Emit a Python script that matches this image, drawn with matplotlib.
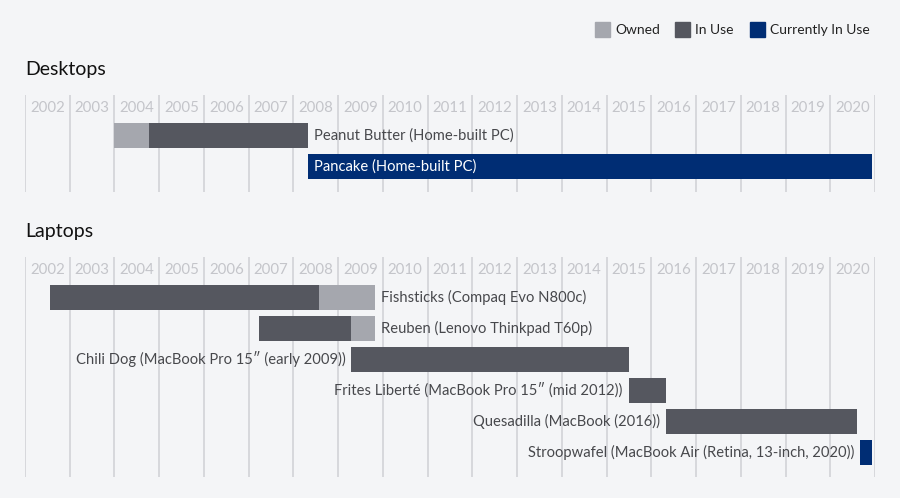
import matplotlib
matplotlib.use("Agg")
import matplotlib.pyplot as plt
from matplotlib.patches import Rectangle

# ── données ─────────────────────────────────────────────
years = list(range(2002, 2021))

desktop_labels   = ["Peanut Butter (Home-built PC)", "Pancake (Home-built PC)"]
desktop_acquired = [2004.00, 2008.33]
desktop_use_from = [2004.77, 2008.33]
desktop_use_to   = [2008.33, 2020.94]
desktop_retired  = [2008.33, 2020.94]
desktop_current  = [False, True]
desktop_side     = ["right", "inside"]

laptop_labels   = ["Fishsticks (Compaq Evo N800c)",
                   "Reuben (Lenovo Thinkpad T60p)",
                   "Chili Dog (MacBook Pro 15\u2033 (early 2009))",
                   "Frites Libert\u00e9 (MacBook Pro 15\u2033 (mid 2012))",
                   "Quesadilla (MacBook (2016))",
                   "Stroopwafel (MacBook Air (Retina, 13-inch, 2020))"]
laptop_acquired = [2002.55, 2007.22, 2009.29, 2015.49, 2016.32, 2020.67]
laptop_use_from = [2002.55, 2007.22, 2009.29, 2015.49, 2016.32, 2020.67]
laptop_use_to   = [2008.58, 2009.29, 2015.49, 2016.32, 2020.60, 2020.94]
laptop_retired  = [2009.83, 2009.83, 2015.49, 2016.32, 2020.60, 2020.94]
laptop_current  = [False, False, False, False, False, True]
laptop_side     = ["right", "right", "left", "left", "left", "left"]

legend_labels = ["Owned", "In Use", "Currently In Use"]

# ── style ───────────────────────────────────────────────
BG      = "#f4f5f7"
C_OWNED = "#a5a7ae"
C_USE   = "#55575f"
C_CUR   = "#002d74"
GRID    = "#d2d3d7"
plt.rcParams["font.family"] = ["Lato", "DejaVu Sans"]

W, H = 900, 498
fig = plt.figure(figsize=(W/100, H/100), dpi=100, facecolor=BG)

def px_axes(x0, y0, x1, y1):
    ax = fig.add_axes([x0/W, 1 - y1/H, (x1-x0)/W, (y1-y0)/H])
    ax.set_facecolor("none")
    ax.axis("off")
    return ax

def panel(ax, title, title_y, labels, acq, u0, u1, ret, cur, side, ybottom):
    n = len(labels)
    ax.set_xlim(2002, 2021)
    ax.set_ylim(ybottom, -0.306)
    ax.vlines(range(2002, 2022), -0.306, ybottom, color=GRID, lw=1.2, zorder=0)
    for yr in years:
        ax.text(yr + 0.5, 0.113, str(yr), ha="center", va="center",
                fontsize=10.8, color="#c4c5ca")
    h = 25/31
    pad = 0.13
    for i in range(n):
        y = i + 1
        if u0[i] > acq[i]:
            ax.barh(y, u0[i]-acq[i], left=acq[i], height=h, color=C_OWNED, lw=0)
        ax.barh(y, u1[i]-u0[i], left=u0[i], height=h,
                color=C_CUR if cur[i] else C_USE, lw=0)
        if ret[i] > u1[i]:
            ax.barh(y, ret[i]-u1[i], left=u1[i], height=h, color=C_OWNED, lw=0)
        if side[i] == "right":
            ax.text(ret[i] + pad, y, labels[i], ha="left", va="center",
                    fontsize=10.6, color="#47484c")
        elif side[i] == "left":
            ax.text(acq[i] - pad, y, labels[i], ha="right", va="center",
                    fontsize=10.6, color="#47484c")
        else:
            ax.text(acq[i] + pad, y, labels[i], ha="left", va="center",
                    fontsize=10.6, color="white")
    fig.text(25/W, 1 - title_y/H, title, ha="left", va="baseline",
             fontsize=14, color="#111111")

ax1 = px_axes(25, 95, 875, 192)
panel(ax1, "Desktops", 75, desktop_labels, desktop_acquired, desktop_use_from,
      desktop_use_to, desktop_retired, desktop_current, desktop_side, 2.82)

ax2 = px_axes(25, 257, 875, 477)
panel(ax2, "Laptops", 237, laptop_labels, laptop_acquired, laptop_use_from,
      laptop_use_to, laptop_retired, laptop_current, laptop_side, 6.79)

# légende
for (x, col, lab) in zip([595, 675, 750], [C_OWNED, C_USE, C_CUR], legend_labels):
    fig.patches.append(Rectangle((x/W, 1 - 37/H), 15/W, 15/H, color=col,
                                 transform=fig.transFigure))
    fig.text((x + 20)/W, 1 - 29.5/H, lab, ha="left", va="center",
             fontsize=10, color="#222222")

fig.savefig("out.png", dpi=100, facecolor=BG)
